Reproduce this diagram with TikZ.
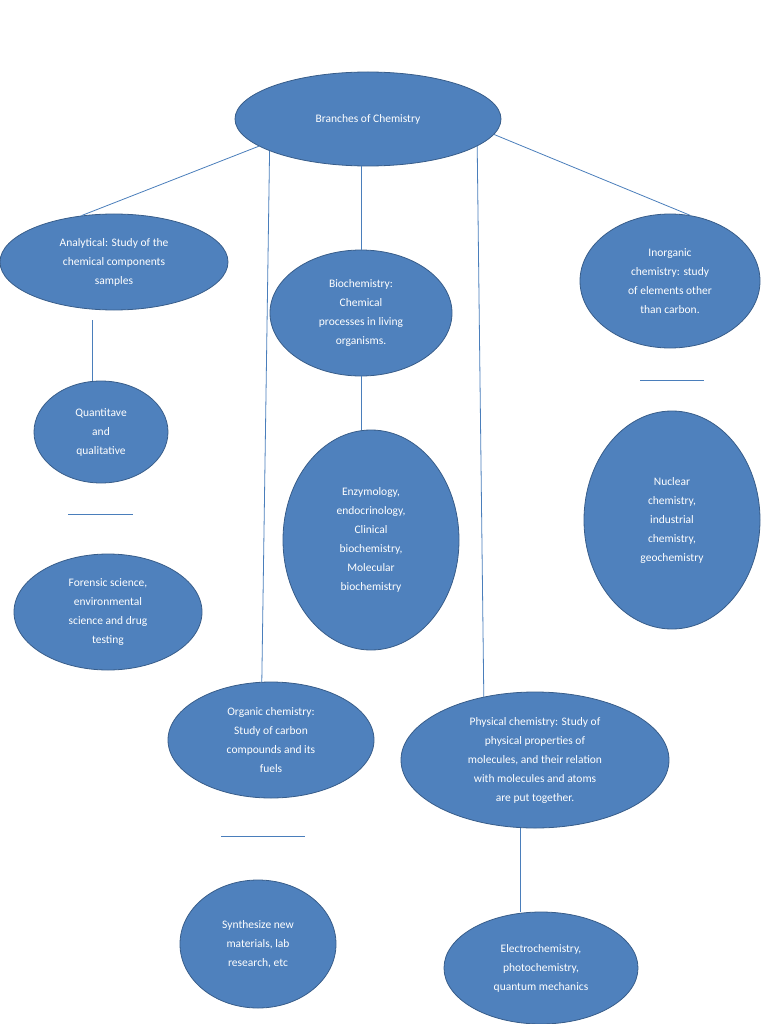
\documentclass[tikz,border=0pt]{standalone}
\usepackage{fontspec}
\setmainfont{Carlito}
\usetikzlibrary{shapes.geometric}
\definecolor{bubble}{HTML}{4F81BD}
\definecolor{rim}{HTML}{385D8A}
\definecolor{wire}{HTML}{4A7EBB}
\tikzset{topic/.style={ellipse, draw=rim, thick, fill=bubble, text=white,
  inner sep=0pt, align=center, font=\fontsize{11.5}{19}\selectfont},
  link/.style={wire, line width=0.8pt}}
\begin{document}
\begin{tikzpicture}[x=1pt,y=-1pt]
\useasboundingbox (0,0) rectangle (768,1024);

\node (root) [topic, minimum width=266pt, minimum height=94pt] at (368,119) {Branches of Chemistry};

\node (ana) [topic, minimum width=228pt, minimum height=96pt] at (114,262) {Analytical: Study of the\\chemical components\\samples};

\node (bio) [topic, minimum width=182pt, minimum height=126pt] at (361,313) {Biochemistry:\\Chemical\\processes in living\\organisms.};

\node (inorg) [topic, minimum width=180pt, minimum height=134pt] at (670,281) {Inorganic\\chemistry: study\\of elements other\\than carbon.};

\node (quant) [topic, minimum width=134pt, minimum height=102pt] at (101,432) {Quantitave\\and\\qualitative};

\node (enz) [topic, minimum width=176pt, minimum height=220pt] at (371,540) {Enzymology,\\endocrinology,\\Clinical\\biochemistry,\\Molecular\\biochemistry};

\node (nuc) [topic, minimum width=176pt, minimum height=218pt] at (672,520) {Nuclear\\chemistry,\\industrial\\chemistry,\\geochemistry};

\node (foren) [topic, minimum width=188pt, minimum height=116pt] at (108,612) {Forensic science,\\environmental\\science and drug\\testing};

\node (org) [topic, minimum width=206pt, minimum height=116pt] at (271,740) {Organic chemistry:\\Study of carbon\\compounds and its\\fuels};

\node (phys) [topic, minimum width=268pt, minimum height=136pt] at (535,760) {Physical chemistry: Study of\\physical properties of\\molecules, and their relation\\with molecules and atoms\\are put together.};

\node (synth) [topic, minimum width=156pt, minimum height=128pt] at (258,944) {Synthesize new\\materials, lab\\research, etc};

\node (elec) [topic, minimum width=194pt, minimum height=112pt] at (541,968) {Electrochemistry,\\photochemistry,\\quantum mechanics};

\draw [link] (root.194.8) -- (ana.125);
\draw [link] (root.-7.6) -- (inorg.73.4);
\draw [link] (bio.north) -- (bio.north |- root.south);
\draw [link] (root.198.8) -- (org.99);
\draw [link] (root.-14.9) -- (phys.129.6);
\draw [link] (quant.100) -- ++(0,-61);
\draw [link] (enz.95) -- (enz.95 |- bio.south);
\draw [link] (phys.-102) -- (phys.-102 |- elec.north);

\draw [link] (68,514) -- (133,514);
\draw [link] (640,380) -- (704,380);
\draw [link] (221,836) -- (305,836);

\end{tikzpicture}
\end{document}
